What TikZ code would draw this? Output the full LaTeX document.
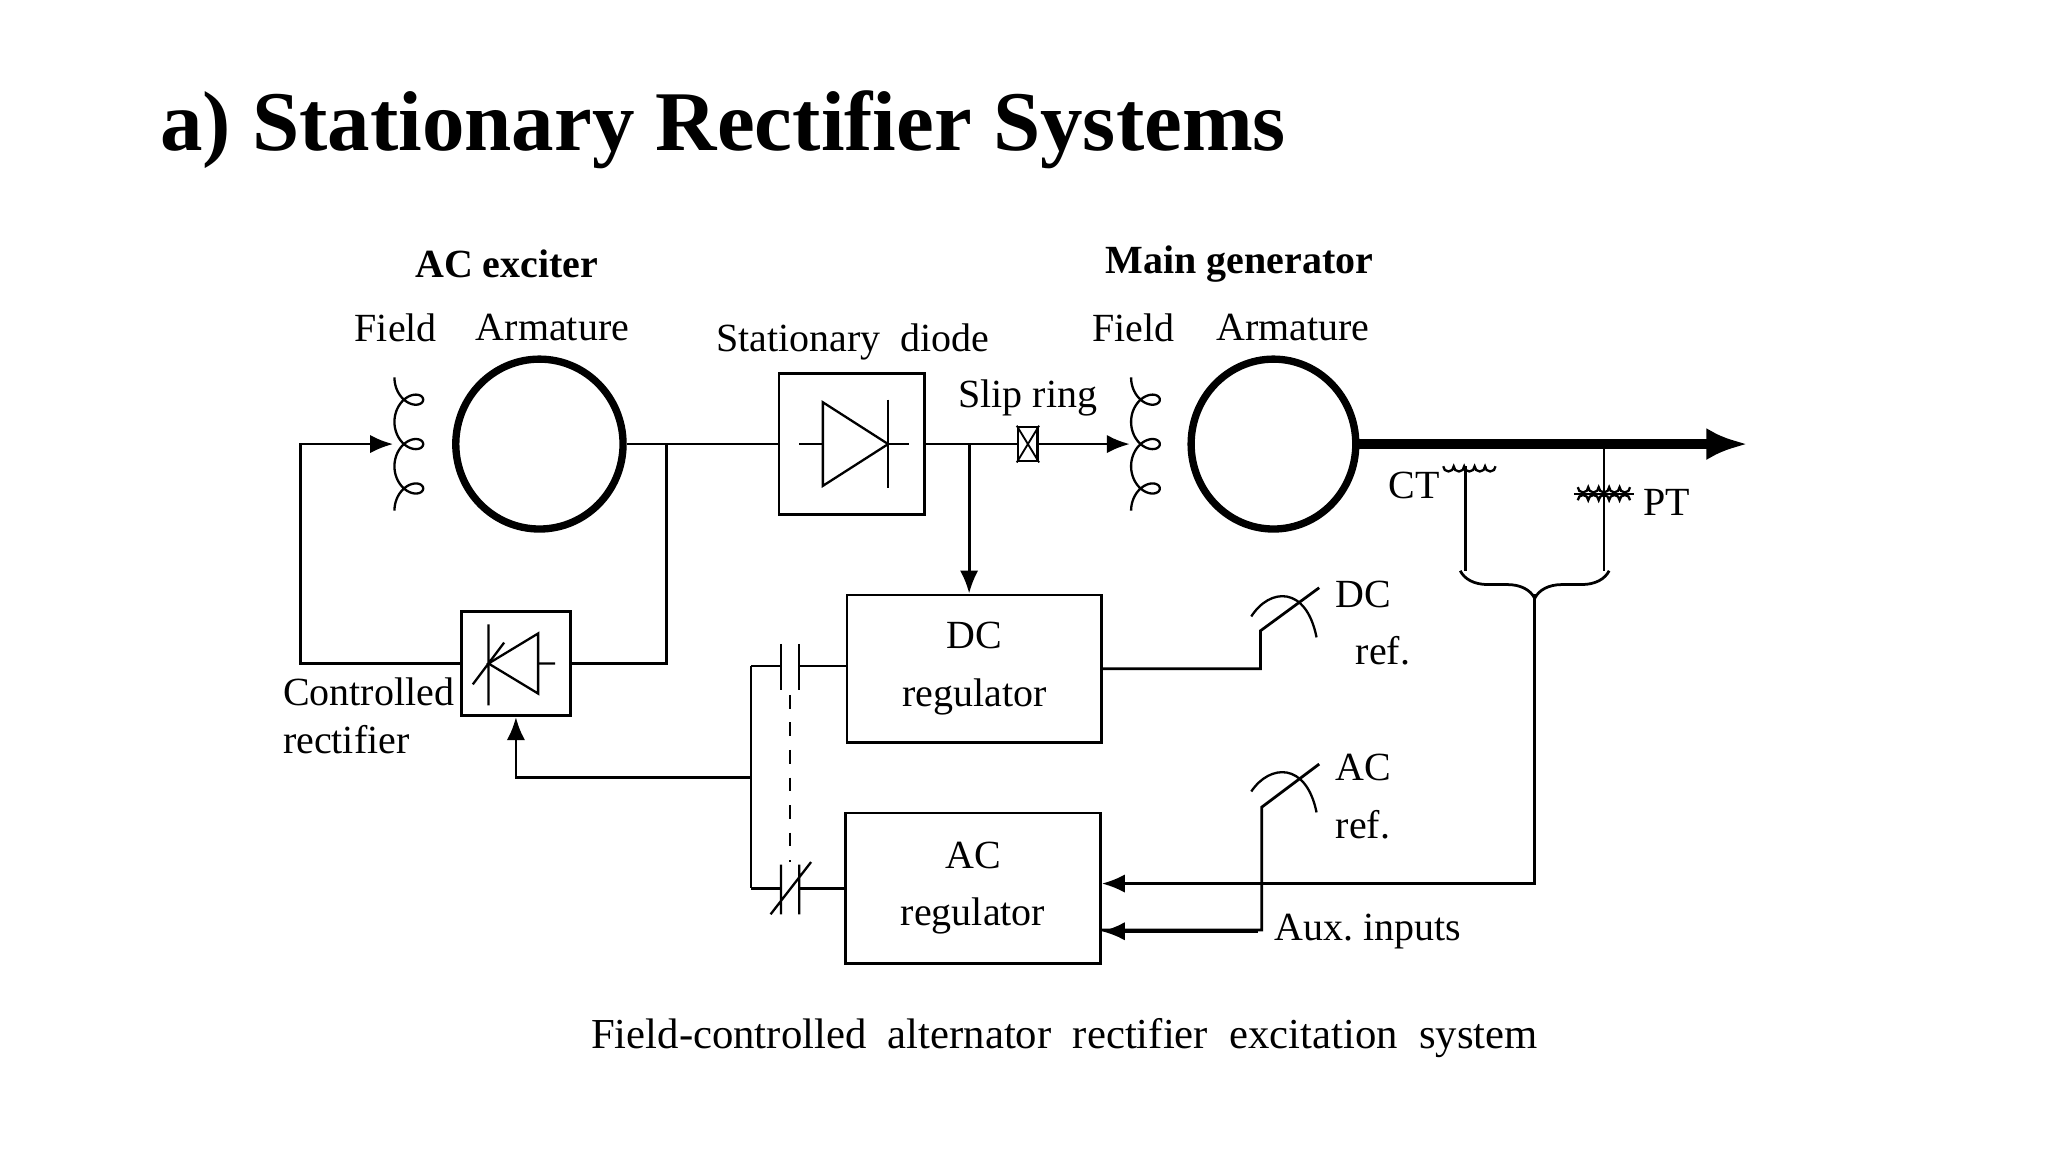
\documentclass[tikz,border=0pt]{standalone}
\usepackage{fontspec}
\setmainfont{Liberation Serif}
\usetikzlibrary{arrows.meta,decorations.pathreplacing,shapes.geometric}
\begin{document}
\begin{tikzpicture}[x=0.01cm,y=-0.01cm,
  lbl/.style={font=\fontsize{8.7}{10.5}\selectfont,inner sep=0pt},
  blbl/.style={lbl,font=\fontsize{8.7}{10.5}\selectfont\bfseries},
  box/.style={draw,line width=0.6pt,inner sep=0pt},
  wire/.style={line width=0.6pt},
  arr/.style={wire,-{Latex[length=5pt,width=4pt]}}]
\useasboundingbox (0,0) rectangle (1568,882);
% title
\node[anchor=base west,inner sep=0pt,font=\fontsize{18.5}{22}\selectfont\bfseries] (title) at (122,115) {a) Stationary Rectifier Systems};

% labels
\node[blbl] (acx) at (388,202) {AC exciter};
\node[blbl] (mg) at (949,202) {Main generator};
\node[lbl] (f1) at (303,251) {Field};
\node[lbl] (a1) at (423,251) {Armature};
\node[lbl] (f2) at (868,251) {Field};
\node[lbl] (a2) at (990,251) {Armature};
\node[lbl] (sd) at (653,262) {Stationary\ \ diode};
\node[lbl] (sr) at (787,305) {Slip ring};

% field coils
\foreach \cx/\nm in {313/c1,877/c2}{
  \draw[line width=0.5pt,variable=\t,samples=200,domain=-540:540]
    plot ({\cx+11*cos(\t)}, {340+\t/360*34-11*sin(\t)});
  \coordinate (\nm) at (\cx-12,340);
}
% armatures
\node[draw,line width=1.6pt,ellipse,minimum width=1.28cm,minimum height=1.3cm,inner sep=0pt] (arm1) at (413,340) {};
\node[draw,line width=1.6pt,ellipse,minimum width=1.26cm,minimum height=1.3cm,inner sep=0pt] (arm2) at (975,340) {};
% stationary diode box
\node[box,minimum width=1.11cm,minimum height=1.08cm] (sdb) at (652,340) {};
\draw[line width=0.5pt] (630,308) -- (680,340) -- (630,372) -- cycle;
\draw[line width=0.5pt] (680,306) -- (680,374) (612,340) -- (630,340) (680,340) -- (696,340);
% slip ring
\node[box,minimum width=0.15cm,minimum height=0.26cm] (slip) at (787,340) {};
\draw[line width=0.4pt] (slip.north west) -- (slip.south east) (slip.north east) -- (slip.south west);

% regulators
\node[box,minimum width=1.95cm,minimum height=1.13cm,align=center,lbl] (dcr) at (746,512) {DC\\[2pt]regulator};
\node[box,minimum width=1.95cm,minimum height=1.15cm,align=center,lbl] (acr) at (745,680) {AC\\[2pt]regulator};
% controlled rectifier
\node[box,minimum width=0.83cm,minimum height=0.8cm] (crb) at (395,508) {};
\draw[line width=0.5pt] (374,508) -- (412,485) -- (412,531) -- cycle;
\draw[line width=0.5pt] (374,478) -- (374,540) (412,508) -- (425,508) (362,524) -- (386,492);
\node[lbl,align=left,anchor=north west] (crl) at (216,518) {Controlled\\rectifier};

% main power path
\coordinate (j1) at (510,340);
\coordinate (j2) at (742,340);
\draw[wire] (arm1.east) -- (sdb.west);
\draw[wire] (sdb.east) -- (slip.west);
\draw[arr] (slip.east) -- (c2);
\draw[arr] (j2) -- (j2 |- dcr.north);
\draw[wire] (j1) |- (crb.east);
\draw[arr] (crb.west) -| (230,340) -- (c1);
\coordinate (out) at (1338,340);
\draw[line width=2.2pt,-{Latex[length=9pt,width=7pt]}] (arm2.east) -- (out);

% CT and PT
\draw[line width=0.5pt] (1105,357) arc[start angle=180,end angle=0,radius=4] arc[start angle=180,end angle=0,radius=4] arc[start angle=180,end angle=0,radius=4] arc[start angle=180,end angle=0,radius=4] arc[start angle=180,end angle=0,radius=4];
\node[lbl] (ct) at (1083,372) {CT};
\coordinate (ctb) at (1122,437);
\draw[wire] (1122,357) -- (ctb);
\draw[wire] (1228,340) -- (1228,437);
\foreach \yy/\sa/\ea in {373/180/0,383/180/360}{
  \draw[line width=0.5pt] (1208,\yy) arc[start angle=\sa,end angle=\ea,radius=4] arc[start angle=\sa,end angle=\ea,radius=4] arc[start angle=\sa,end angle=\ea,radius=4] arc[start angle=\sa,end angle=\ea,radius=4] arc[start angle=\sa,end angle=\ea,radius=4];
}
\draw[line width=0.5pt] (1205,378) -- (1251,378);
\node[lbl] (pt) at (1276,385) {PT};
\draw[wire,decorate,decoration={brace,amplitude=6pt,mirror}] (1118,437) -- (1232,437);
\coordinate (br) at (1175,455);
\draw[arr] (br) |- ([yshift=1]acr.east);

% DC ref
\coordinate (dcp) at (965,483);
\draw[wire] (dcr.east) -| (dcp) -- (1010,450);
\draw[line width=0.5pt] (958,472) .. controls (972,450) and (1000,448) .. (1008,488);
\node[lbl,align=left,anchor=west] (dcref) at (1022,477) {DC\\[2pt]\ \ ref.};
% AC ref
\coordinate (acp) at (966,618);
\draw[wire] ([yshift=-0.32cm]acr.east) -| (acp) -- (1010,585);
\draw[line width=0.5pt] (958,606) .. controls (972,585) and (1000,583) .. (1008,622);
\node[lbl,align=left,anchor=west] (acref) at (1022,610) {AC\\[2pt]ref.};
% aux inputs
\node[lbl,anchor=west] (aux) at (975,713) {Aux.\ inputs};
\draw[arr] (aux.west) ++(-12,0) coordinate (auxs) -- (acr.east |- auxs);

% control bus
\coordinate (bt) at (575,510);
\coordinate (bb) at (575,680);
\coordinate (bm) at (575,595);
\draw[wire] (bt) -- (bb);
\draw[wire] (bt) -- (598,510) (612,510) -- (dcr.west |- bt);
\draw[line width=0.5pt] (598,493) -- (598,528) (612,493) -- (612,528);
\draw[wire] (bb) -- (598,680) (612,680) -- (acr.west |- bb);
\draw[line width=0.5pt] (598,662) -- (598,700) (612,662) -- (612,700) (590,700) -- (621,660);
\draw[line width=0.5pt,dashed] (605,532) -- (605,660);
\draw[arr] (bm) -| (crb.south);

% caption
\node[lbl,anchor=base,font=\fontsize{9.3}{11}\selectfont] (cap) at (815,803) {Field-controlled\ \ alternator\ \ rectifier\ \ excitation\ \ system};
\end{tikzpicture}
\end{document}
